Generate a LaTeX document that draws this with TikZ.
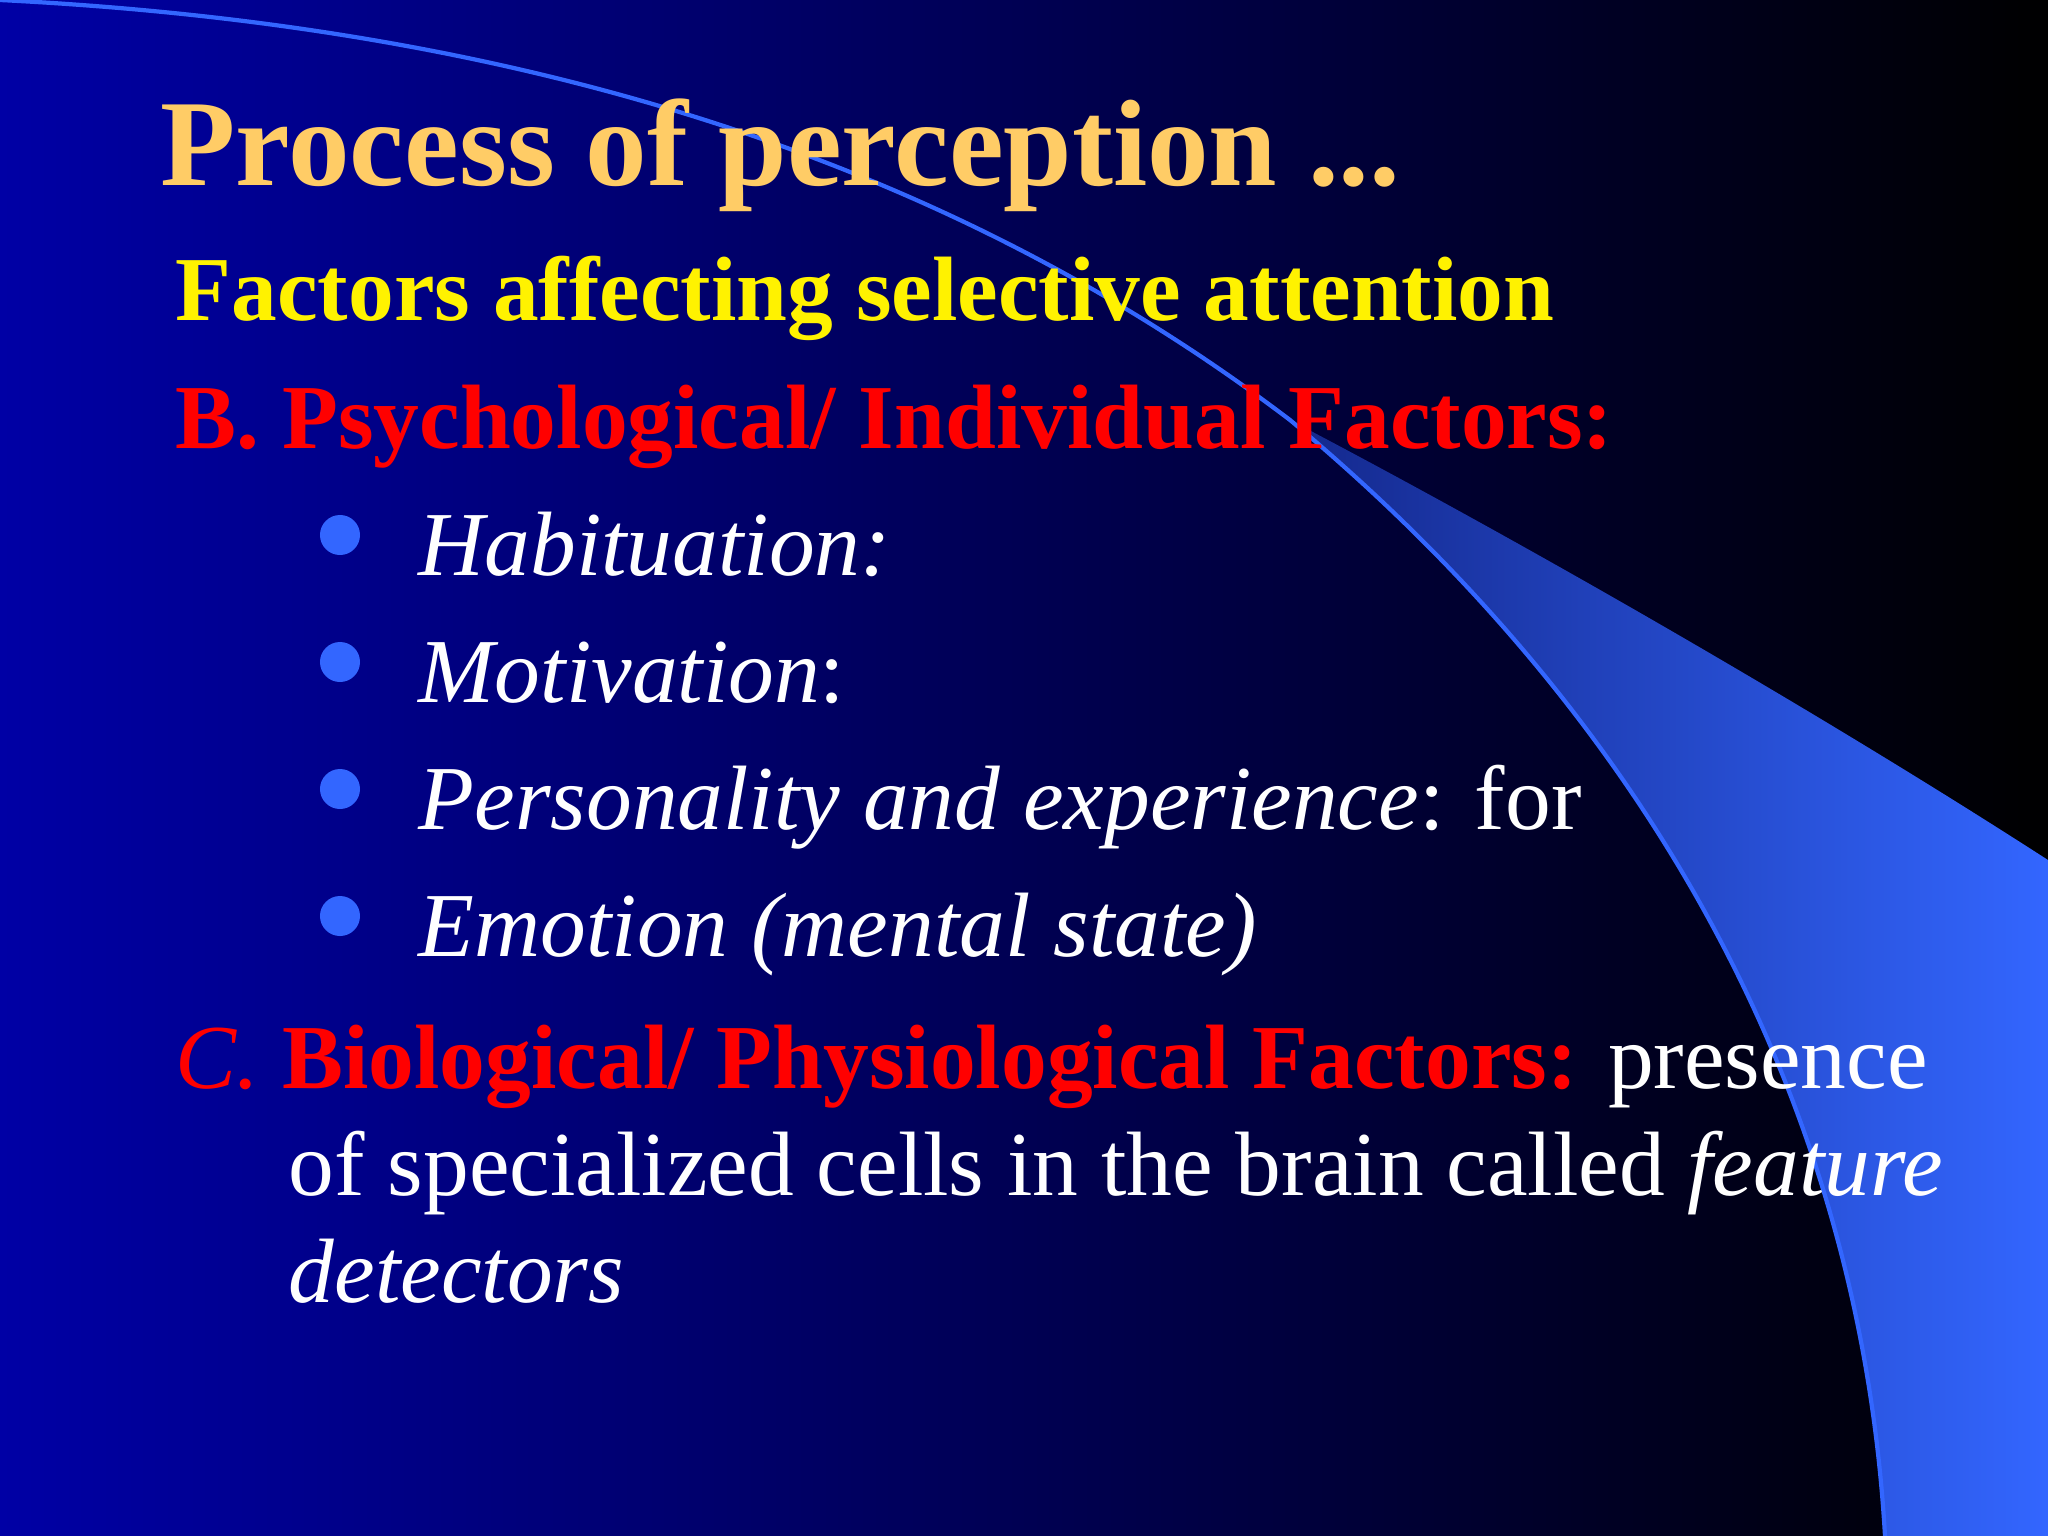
\documentclass[tikz,border=0pt]{standalone}
\usepackage{fontspec}
\setmainfont{Liberation Serif}
\begin{document}
\begin{tikzpicture}[x=0.01cm,y=-0.01cm,
  ln/.style={anchor=base west,inner sep=0,font=\fontsize{26}{30}\selectfont},
  dot/.style={circle,fill=bl,inner sep=0,minimum size=0.4cm}]
\definecolor{bl}{RGB}{51,102,255}
\definecolor{gold}{RGB}{255,204,102}
\useasboundingbox (0,0) rectangle (2048,1536);
\shade[left color={rgb,255:red,0;green,0;blue,165},right color=black] (0,0) rectangle (2048,1536);
\shade[left color={rgb,255:red,20;green,40;blue,140},right color=bl]
  (1290,420) .. controls (1500,530) and (1800,700) .. (2048,860) -- (2048,1536) -- (1885,1536)
  .. controls (1860,1100) and (1650,720) .. (1290,420) -- cycle;
\draw[bl,line width=1.2] (0,0) .. controls (600,30) and (1000,200) .. (1290,420)
  .. controls (1650,720) and (1860,1100) .. (1885,1536);
\node[ln,font=\fontsize{35}{40}\selectfont\bfseries,text=gold] (t) at (160,185) {Process of perception ...};
\node[ln,font=\fontsize{26}{30}\selectfont\bfseries,text=yellow] (s) at (175,320) {Factors affecting selective attention};
\node[ln,font=\fontsize{26}{30}\selectfont\bfseries,text=red] (b) at (175,448) {B. Psychological/ Individual Factors:};
\foreach \y/\t [count=\i] in {575/{\textit{Habituation:}},702/{\textit{Motivation}:},829/{\textit{Personality and experience}: for},956/{\textit{Emotion (mental state)}}}{
  \node[ln,text=white] (i\i) at (418,\y) {\t};
  \node[dot] (d\i) at (340,\y-40) {};
}
\node[ln,text=red] (c) at (175,1088) {\textit{C.} \textbf{Biological/ Physiological Factors:} \textcolor{white}{presence}};
\node[ln,text=white] (c2) at (288,1195) {of specialized cells in the brain called \textit{feature}};
\node[ln,text=white] (c3) at (288,1302) {\textit{detectors}};
\end{tikzpicture}
\end{document}
